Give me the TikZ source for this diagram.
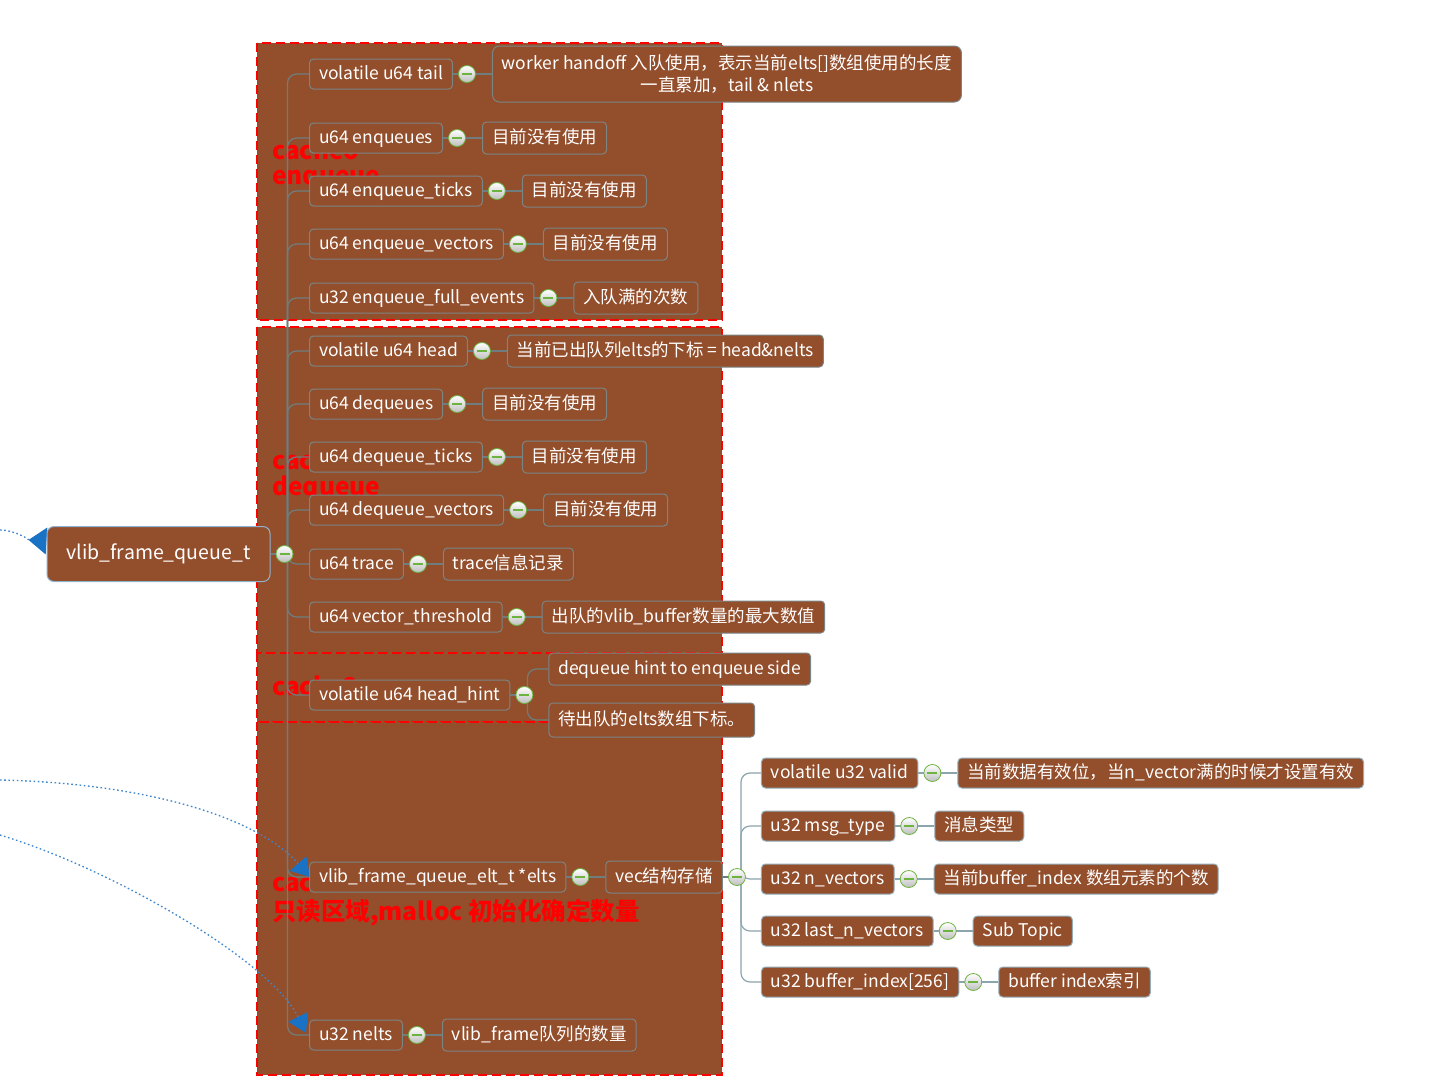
\documentclass[tikz,border=0pt]{standalone}
\usepackage{fontspec}
\newfontfamily\cjk{Noto Sans CJK SC}
\usetikzlibrary{arrows.meta}
\definecolor{brn}{HTML}{934E2C}
\definecolor{bord}{HTML}{7B8584}
\definecolor{bordb}{HTML}{93AEBA}
\definecolor{rootb}{HTML}{8FB3CF}
\definecolor{conn}{HTML}{6E7E7E}
\definecolor{connb}{HTML}{8AA5AE}
\definecolor{grn}{HTML}{6DB33F}
\definecolor{relb}{HTML}{1A72C4}
\pgfdeclarelayer{bnd}
\pgfdeclarelayer{edges}
\pgfsetlayers{bnd,edges,main}
\tikzset{
  topic/.style={draw=bord, line width=1pt, fill=brn, text=white, rounded corners=4pt,
    font=\cjk\fontsize{17.5}{22}\selectfont, inner xsep=9.5pt, inner ysep=0pt,
    minimum height=30pt, anchor=west, text depth=3pt, text height=13pt},
  note/.style={topic, minimum height=32pt},
  rootnode/.style={topic, anchor=center, draw=rootb, rounded corners=7pt,
    minimum width=223pt, minimum height=55pt, font=\cjk\fontsize{19.5}{22}\selectfont},
  col/.style={circle, draw=grn, line width=0.8pt, top color=white, bottom color=gray!50,
    minimum size=17pt, inner sep=0pt,
    path picture={\draw[grn, line width=1.8pt]
      ([xshift=-5pt]path picture bounding box.center) -- ([xshift=5pt]path picture bounding box.center);}},
  edge/.style={draw=conn, line width=1.2pt, rounded corners=9pt},
  edgeb/.style={draw=connb, line width=1.2pt, rounded corners=9pt},
  bndbox/.style={draw=red, line width=1.6pt, dash pattern=on 9pt off 5pt, fill=brn},
  lbl/.style={text=red, font=\cjk\bfseries\fontsize{24.5}{28}\selectfont, anchor=west, inner sep=0pt},
  rel/.style={draw=relb!85, line width=1.3pt, dash pattern=on 1.6pt off 2.6pt},
}
\newcommand\fieldrow[4]{%
  \node[topic] (t#1) at (309,#2) {#3};
  \node[col] (c#1) at ([xshift=14pt]t#1.east) {};
  \node[note] (n#1) at ([xshift=25pt]c#1.center) {#4};
  \begin{pgfonlayer}{edges}
    \draw[edge] (t#1.east) -- (n#1.west);
    \draw[edge] ([xshift=3pt]rootc.center) |- (t#1.west);
  \end{pgfonlayer}}
\newcommand\subrow[4]{%
  \path ([xshift=24pt]c13b.center) ++(0,#2) node[topic, draw=bordb] (s#1) {#3};
  \node[col] (sc#1) at ([xshift=14pt]s#1.east) {};
  \node[note, draw=bordb, minimum height=30pt] (sn#1) at ([xshift=25pt]sc#1.center) {#4};
  \begin{pgfonlayer}{edges}
    \draw[edgeb] (s#1.east) -- (sn#1.west);
    \draw[edgeb] ([xshift=4pt]c13b.center) |- (s#1.west);
  \end{pgfonlayer}}
\begin{document}
\begin{tikzpicture}[x=1pt, y=-1pt]
\useasboundingbox (0,0) rectangle (1442,1090);

% boundaries
\begin{pgfonlayer}{bnd}
  \fill[white] (0,0) rectangle (1442,1090);
  \draw[bndbox] (257,43) rectangle (722,320);
  \draw[bndbox] (257,327) rectangle (722,653);
  \draw[bndbox] (257,653) rectangle (722,722);
  \draw[bndbox] (257,722) rectangle (722,1075);
  \node[lbl] (l1a) at (272,150) {cacheo};
  \node[lbl] (l1b) at (272,180) {enqueue};
  \node[lbl] (l2a) at (272,460) {cache1};
  \node[lbl] (l2b) at (272,488) {dequeue};
  \node[lbl] (l3a) at (272,686) {cache2};
  \node[lbl] (l4a) at (272,882) {cache3};
  \node[lbl] (l4b) at (272,913) {只读区域,malloc 初始化确定数量};
\end{pgfonlayer}

% root
\node[rootnode] (root) at (158.5,554) {vlib\_frame\_queue\_t};
\node[col] (rootc) at ([xshift=14pt]root.east) {};
\begin{pgfonlayer}{edges}
  \draw[edge] (root.east) -- (rootc);
\end{pgfonlayer}

% row 1 with two-line note
\node[topic] (t1) at (309,74) {volatile u64 tail};
\node[col] (c1) at ([xshift=14pt]t1.east) {};
\node[note, align=center, minimum height=56pt, rounded corners=7pt, text depth=, text height=] (n1) at ([xshift=25pt]c1.center)
  {worker handoff 入队使用，表示当前elts[]数组使用的长度\\一直累加，tail \& nlets};
\begin{pgfonlayer}{edges}
  \draw[edge] (t1.east) -- (n1.west);
  \draw[edge] ([xshift=3pt]rootc.center) |- (t1.west);
\end{pgfonlayer}

\fieldrow{2}{138}{u64 enqueues}{目前没有使用}
\fieldrow{3}{191}{u64 enqueue\_ticks}{目前没有使用}
\fieldrow{4}{244}{u64 enqueue\_vectors}{目前没有使用}
\fieldrow{5}{298}{u32 enqueue\_full\_events}{入队满的次数}
\fieldrow{6}{351}{volatile u64 head}{当前已出队列elts的下标 = head\&nelts}
\fieldrow{7}{404}{u64 dequeues}{目前没有使用}
\fieldrow{8}{457}{u64 dequeue\_ticks}{目前没有使用}
\fieldrow{9}{510}{u64 dequeue\_vectors}{目前没有使用}
\fieldrow{10}{564}{u64 trace}{trace信息记录}
\fieldrow{11}{617}{u64 vector\_threshold}{出队的vlib\_buffer数量的最大数值}

% head_hint
\node[topic] (t12) at (309,695) {volatile u64 head\_hint};
\node[col] (c12) at ([xshift=14pt]t12.east) {};
\path ([xshift=24pt]c12.center) ++(0,-26) node[note] (n12a) {dequeue hint to enqueue side};
\path ([xshift=24pt]c12.center) ++(0,25) node[note, minimum height=34pt] (n12b) {待出队的elts数组下标。};
\begin{pgfonlayer}{edges}
  \draw[edge] (t12.east) -- (c12.center);
  \draw[edge] ([xshift=3pt]c12.center) |- (n12a.west);
  \draw[edge] ([xshift=3pt]c12.center) |- (n12b.west);
  \draw[edge] ([xshift=3pt]rootc.center) |- (t12.west);
\end{pgfonlayer}

% elts
\node[topic] (t13) at (309,877) {vlib\_frame\_queue\_elt\_t *elts};
\node[col] (c13) at ([xshift=14pt]t13.east) {};
\node[note] (n13) at ([xshift=25pt]c13.center) {vec结构存储};
\node[col] (c13b) at ([xshift=14pt]n13.east) {};
\begin{pgfonlayer}{edges}
  \draw[edge] (t13.east) -- (n13.west);
  \draw[edge] (n13.east) -- (c13b.center);
  \draw[edge] ([xshift=3pt]rootc.center) |- (t13.west);
\end{pgfonlayer}
\subrow{1}{-104}{volatile u32 valid}{当前数据有效位，当n\_vector满的时候才设置有效}
\subrow{2}{-51}{u32 msg\_type}{消息类型}
\subrow{3}{2}{u32 n\_vectors}{当前buffer\_index 数组元素的个数}
\subrow{4}{54}{u32 last\_n\_vectors}{Sub Topic}
\subrow{5}{105}{u32 buffer\_index[256]}{buffer index索引}

% nelts
\fieldrow{14}{1035}{u32 nelts}{vlib\_frame队列的数量}

% relationship lines
\coordinate (r1) at (0,530);
\coordinate (r2) at (0,780);
\coordinate (r3) at (0,835);
\begin{pgfonlayer}{edges}
  \draw[rel, -{Triangle[reversed, length=18pt, width=27pt, fill=relb, line width=0pt]}]
    (r1) .. controls (15,530) and (30,540) .. ([yshift=13pt]root.west);
  \draw[rel, -{Triangle[length=18pt, width=22pt, fill=relb, line width=0pt]}]
    (r2) .. controls (140,783) and (255,815) .. ([xshift=1pt]t13.west);
  \draw[rel, -{Triangle[length=18pt, width=22pt, fill=relb, line width=0pt]}]
    (r3) .. controls (110,868) and (270,960) .. ([xshift=-3pt,yshift=2pt]t14.west);
\end{pgfonlayer}
\end{tikzpicture}
\end{document}
